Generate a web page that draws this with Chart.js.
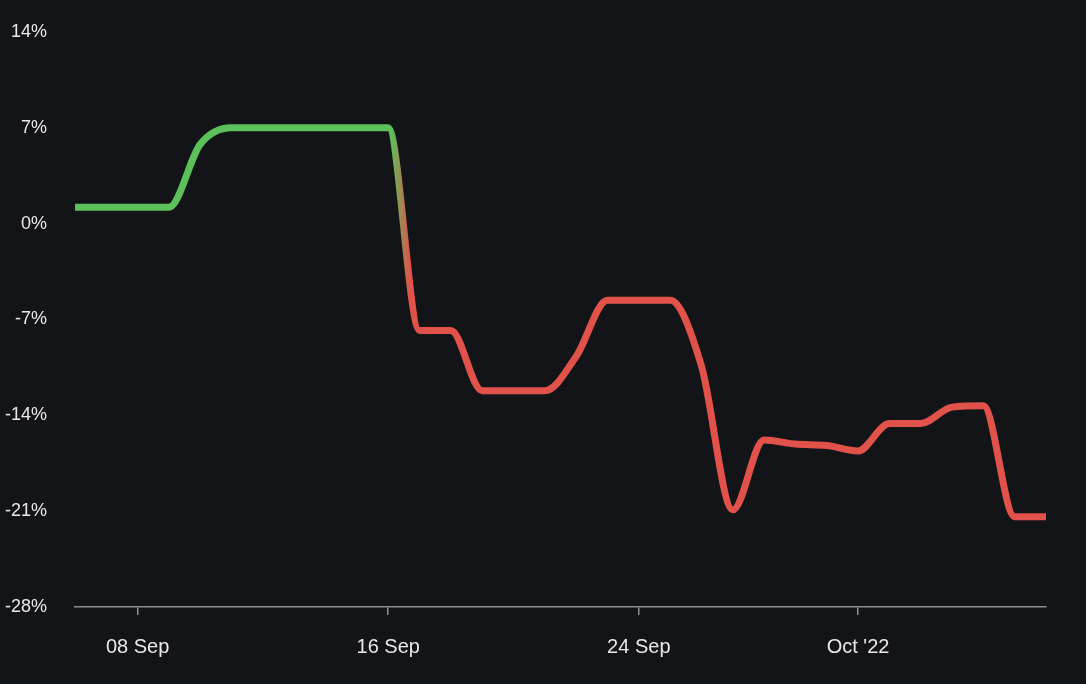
<!DOCTYPE html>
<html><head><meta charset="utf-8">
<script src="https://cdn.jsdelivr.net/npm/chart.js@4/dist/chart.umd.min.js"></script>
<style>html,body{margin:0;background:#131418;}#w{width:1086px;height:684px;}</style>
</head><body><div id="w"><canvas id="c"></canvas></div>
<script>
const days = ["06 Sep","07 Sep","08 Sep","09 Sep","10 Sep","11 Sep","12 Sep","13 Sep","14 Sep","15 Sep","16 Sep","17 Sep","18 Sep","19 Sep","20 Sep","21 Sep","22 Sep","23 Sep","24 Sep","25 Sep","26 Sep","27 Sep","28 Sep","29 Sep","30 Sep","01 Oct","02 Oct","03 Oct","04 Oct","05 Oct","06 Oct","07 Oct"];
const values = [1.2,1.2,1.2,1.2,5.8,7.0,7.0,7.0,7.0,7.0,7.0,-7.8,-7.8,-12.2,-12.2,-12.2,-9.7,-5.6,-5.6,-5.6,-10.4,-20.9,-15.8,-16.1,-16.2,-16.6,-14.6,-14.6,-13.4,-13.3,-21.4,-21.4];
const tickIdx = [2,10,18,25];
const tickLabels = ["08 Sep","16 Sep","24 Sep","Oct '22"];
const yTicks = [-28,-21,-14,-7,0,7,14];
const GREEN="#5cc15a", RED="#e0524a";
const pts = values.map((v,i)=>({x:i,y:v}));
new Chart(document.getElementById('c'),{
 type:'line',
 data:{datasets:[{data:pts,borderWidth:7,pointRadius:0,cubicInterpolationMode:'monotone',fill:false,
  borderColor:(ctx)=>{const ch=ctx.chart;const a=ch.chartArea;if(!a)return GREEN;
   const xs=ch.scales.x;const x0=xs.getPixelForValue(10),x1=xs.getPixelForValue(11);
   const g=ch.ctx.createLinearGradient(x0,0,x1,0);g.addColorStop(0,GREEN);g.addColorStop(0.1,GREEN);g.addColorStop(0.7,RED);g.addColorStop(1,RED);return g;}}]},
 options:{responsive:true,maintainAspectRatio:false,animation:false,
  layout:{padding:{top:32,right:40,left:0,bottom:0}},
  plugins:{legend:{display:false},tooltip:{enabled:false}},
  scales:{
   x:{type:'linear',min:0,max:days.length-1,
    grid:{display:true,drawOnChartArea:false,drawTicks:true,tickLength:8,color:'#8a8d93',lineWidth:1.5},
    border:{display:true,color:'#8a8d93',width:1.5},
    afterBuildTicks:s=>{s.ticks=tickIdx.map(v=>({value:v}));},
    afterFit:s=>{s.height=77;},
    ticks:{autoSkip:false,maxRotation:0,padding:20,color:'#e8e8e8',font:{family:'Liberation Sans, Arial',size:20},
     callback:(v)=>tickLabels[tickIdx.indexOf(v)]}},
   y:{min:-28,max:14,
    afterBuildTicks:s=>{s.ticks=yTicks.map(v=>({value:v}));},
    afterFit:s=>{s.width=75;},
    grid:{display:false},border:{display:false},
    ticks:{padding:20,color:'#e8e8e8',font:{family:'Liberation Sans, Arial',size:18},callback:v=>v+'%'}}
  }}
});
</script></body></html>
